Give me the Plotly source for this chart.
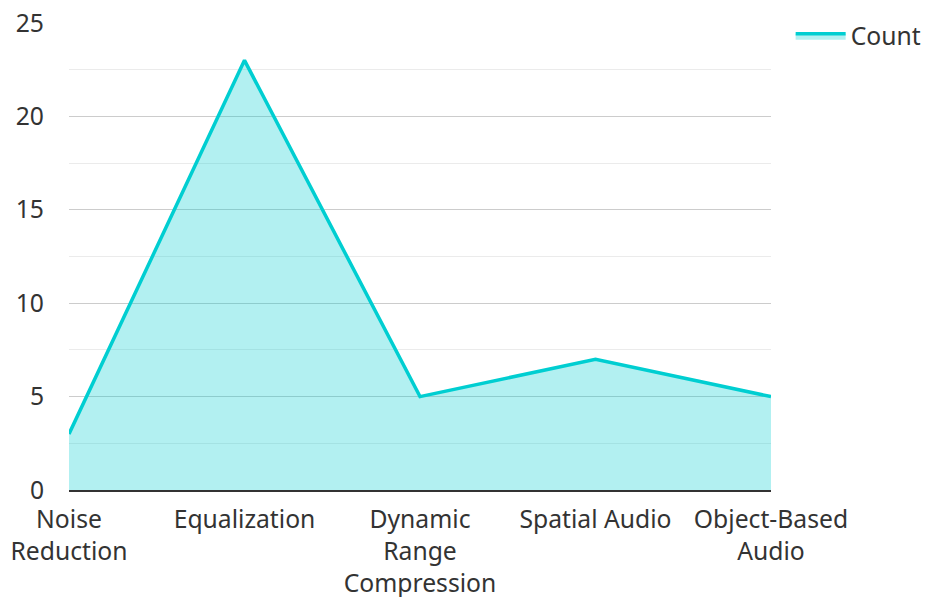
import plotly.graph_objects as go

categories = ["Noise<br>Reduction", "Equalization", "Dynamic<br>Range<br>Compression", "Spatial Audio", "Object-Based<br>Audio"]
counts = [3, 23, 5, 7, 5]
y_ticks = [0, 5, 10, 15, 20, 25]

FS = 24.7

fig = go.Figure()
fig.add_trace(go.Scatter(
    x=categories, y=counts, name="Count", mode="lines",
    line=dict(color="#00CED1", width=3.5),
    fill="tozeroy", fillcolor="rgba(0,206,209,0.3)",
))

fig.update_layout(
    width=921, height=589,
    margin=dict(l=61, r=158, t=15, b=107, autoexpand=False),
    paper_bgcolor="white", plot_bgcolor="white",
    font=dict(family="Noto Sans", size=FS, color="#333333"),
    showlegend=True,
    legend=dict(x=1.028, y=1.021, xanchor="left", yanchor="top", itemwidth=50,
                font=dict(size=FS, color="#333333")),
    xaxis=dict(range=[0, 4], showgrid=False, showline=True, linecolor="#333333", linewidth=2,
               ticks="", ticklabelstandoff=6, automargin=False, ticklabeloverflow="allow",
               tickfont=dict(size=FS, color="#333333")),
    yaxis=dict(range=[0, 25], tickvals=y_ticks, showgrid=True, gridcolor="#cccccc", gridwidth=1,
               showline=False, zeroline=False, ticks="", ticklabelstandoff=24, automargin=False,
               ticklabeloverflow="allow",
               minor=dict(dtick=2.5, showgrid=True, gridcolor="#ebebeb", gridwidth=1),
               tickfont=dict(size=FS, color="#333333")),
)

fig.write_html("out.html")
